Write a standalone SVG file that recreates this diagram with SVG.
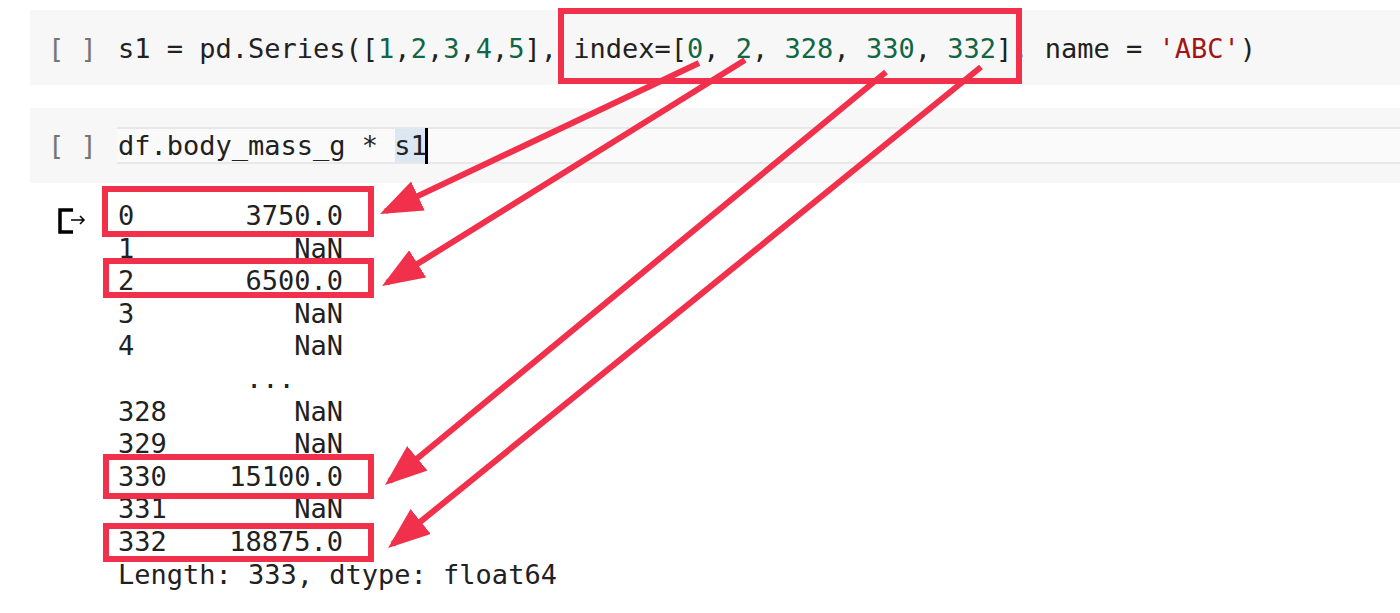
<svg xmlns="http://www.w3.org/2000/svg" width="1400" height="613" viewBox="0 0 1400 613">
<defs>
<style>
.code{font-family:"DejaVu Sans Mono","Liberation Mono",monospace;font-size:27px;fill:#212121}
.br{fill:#757575}
.num{fill:#116644}
.str{fill:#a31515}
.hl{fill:none;stroke:#F1304B;stroke-width:6}
.arr{stroke:#F1304B;stroke-width:6;fill:none;marker-end:url(#head)}
.val{text-anchor:end}
</style>
<marker id="head" markerUnits="userSpaceOnUse" markerWidth="44" markerHeight="34" refX="36" refY="16" orient="auto" viewBox="0 0 44 34">
<path d="M0,0 L42,16 L0,32 Z" fill="#F1304B"/>
</marker>
</defs>
<rect width="1400" height="613" fill="#ffffff"/>
<g id="cell1">
<rect x="30" y="10" width="1370" height="75" fill="#f7f7f7"/>
<text class="code br" x="48" y="58">[ ]</text>
<text class="code" x="118" y="58" xml:space="preserve">s1 = pd.Series([<tspan class="num">1</tspan>,<tspan class="num">2</tspan>,<tspan class="num">3</tspan>,<tspan class="num">4</tspan>,<tspan class="num">5</tspan>], index=[<tspan class="num">0</tspan>, <tspan class="num">2</tspan>, <tspan class="num">328</tspan>, <tspan class="num">330</tspan>, <tspan class="num">332</tspan>], name = <tspan class="str">'ABC'</tspan>)</text>
</g>
<g id="cell2">
<rect x="30" y="108" width="1370" height="75" fill="#f7f7f7"/>
<rect x="117" y="128" width="1283" height="35" fill="#fafafa"/>
<path d="M117,128 H1400 M117,163 H1400" stroke="#e8e8e8" stroke-width="2" fill="none"/>
<rect x="395" y="129" width="31" height="33" fill="#dce7f4"/>
<rect x="425" y="128" width="3" height="36" fill="#000000"/>
<text class="code br" x="48" y="155">[ ]</text>
<text class="code" x="118" y="155" xml:space="preserve">df.body_mass_g * s1</text>
</g>
<g id="output">
<path d="M73,210 H60 V232 H73" fill="none" stroke="#000" stroke-width="3.5"/>
<path d="M71,220 H84 M80,216 L84,220 L80,224" fill="none" stroke="#000" stroke-width="1.5"/>
<g class="code">
<text x="118" y="225">0</text><text class="val" x="343" y="225">3750.0</text>
<text x="118" y="257.6">1</text><text class="val" x="343" y="257.6">NaN</text>
<text x="118" y="290">2</text><text class="val" x="343" y="290">6500.0</text>
<text x="118" y="323">3</text><text class="val" x="343" y="323">NaN</text>
<text x="118" y="355">4</text><text class="val" x="343" y="355">NaN</text>
<text x="246" y="388">...</text>
<text x="118" y="421">328</text><text class="val" x="343" y="421">NaN</text>
<text x="118" y="453">329</text><text class="val" x="343" y="453">NaN</text>
<text x="118" y="486">330</text><text class="val" x="343" y="486">15100.0</text>
<text x="118" y="518">331</text><text class="val" x="343" y="518">NaN</text>
<text x="118" y="551">332</text><text class="val" x="343" y="551">18875.0</text>
<text x="118" y="584">Length: 333, dtype: float64</text>
</g>
</g>
<g id="box-index"><rect class="hl" x="561" y="11" width="458" height="70"/></g>
<g id="box-0"><rect class="hl" x="105" y="189" width="266" height="45"/></g>
<g id="box-2"><rect class="hl" x="106" y="261" width="265" height="34"/></g>
<g id="box-330"><rect class="hl" x="106" y="457" width="265" height="39"/></g>
<g id="box-332"><rect class="hl" x="106" y="526" width="265" height="33"/></g>
<g id="connectors">
<line class="arr" x1="699" y1="63" x2="385.4" y2="211.4"/>
<line class="arr" x1="745" y1="60" x2="387.1" y2="282.8"/>
<line class="arr" x1="886" y1="72" x2="389.6" y2="481.2"/>
<line class="arr" x1="981" y1="67" x2="392.7" y2="544.2"/>
</g>
</svg>
